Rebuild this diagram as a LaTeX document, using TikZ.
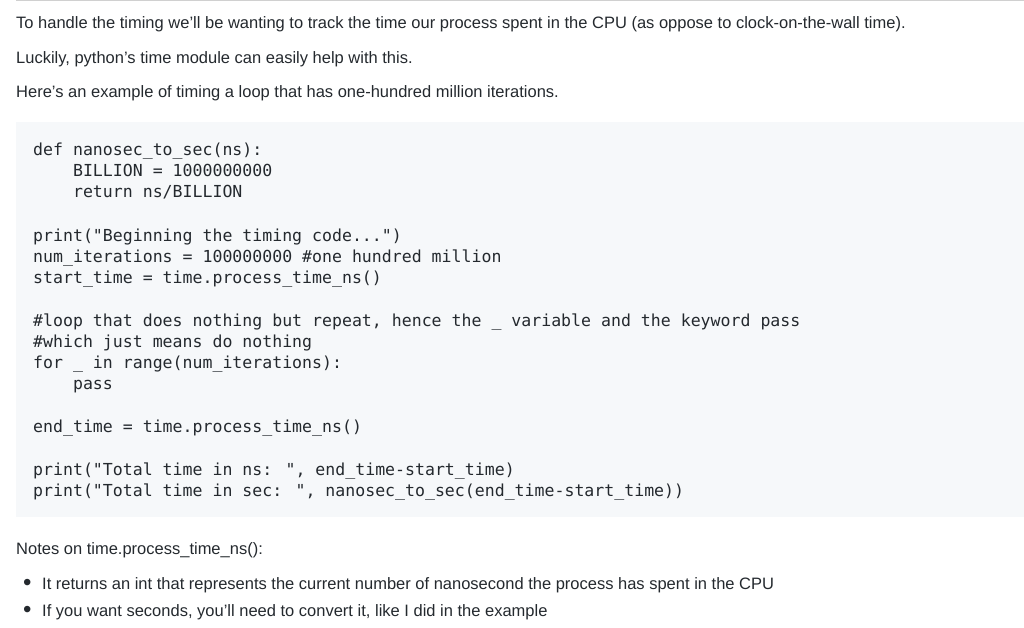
\documentclass[tikz,border=0pt]{standalone}
\usepackage{fontspec}
\setmainfont{Liberation Sans}
\newfontfamily\codefont{DejaVu Sans Mono}
\definecolor{codebg}{HTML}{F6F8FA}
\definecolor{txt}{HTML}{24292E}
\definecolor{rule}{HTML}{D0D0D0}
\begin{document}
\begin{tikzpicture}[x=1pt,y=-1pt,
  body/.style={anchor=base west,inner sep=0,text=txt,font=\fontsize{16.5}{19}\selectfont},
  code/.style={anchor=base west,inner sep=0,text=txt,font=\codefont\fontsize{16.55}{20}\selectfont}]
\useasboundingbox (0,0) rectangle (1024,628);
\draw[rule,line width=1.2] (16,0.6) -- (1024,0.6);
\fill[codebg] (16,122) rectangle (1024,517);
\node[body] (t1) at (16,29) {To handle the timing we'll be wanting to track the time our process spent in the CPU (as oppose to clock-on-the-wall time).};
\node[body] (t2) at (16,64) {Luckily, python's time module can easily help with this.};
\node[body] (t3) at (16,98) {Here's an example of timing a loop that has one-hundred million iterations.};
\node[code] (c1) at (33,156) {def nanosec\_to\_sec(ns):};
\node[code] (c2) at (33,177) {\ \ \ \ BILLION = 1000000000};
\node[code] (c3) at (33,198) {\ \ \ \ return ns/BILLION};
\node[code] (c4) at (33,241) {print("Beginning the timing code...")};
\node[code] (c5) at (33,262) {num\_iterations = 100000000 \#one hundred million};
\node[code] (c6) at (33,283) {start\_time = time.process\_time\_ns()};
\node[code] (c7) at (33,326) {\#loop that does nothing but repeat, hence the \_ variable and the keyword pass};
\node[code] (c8) at (33,347) {\#which just means do nothing};
\node[code] (c9) at (33,368) {for \_ in range(num\_iterations):};
\node[code] (c10) at (33,389) {\ \ \ \ pass};
\node[code] (c11) at (33,432) {end\_time = time.process\_time\_ns()};
\node[code] (c12) at (33,475) {print("Total time in ns: ", end\_time-start\_time)};
\node[code] (c13) at (33,496) {print("Total time in sec: ", nanosec\_to\_sec(end\_time-start\_time))};
\node[body] (n1) at (16,554) {Notes on time.process\_time\_ns():};
\node[body,font=\fontsize{24}{24}\selectfont] (b1) at (23,590) {•};
\node[body] (l1) at (42,589) {It returns an int that represents the current number of nanosecond the process has spent in the CPU};
\node[body,font=\fontsize{24}{24}\selectfont] (b2) at (23,617) {•};
\node[body] (l2) at (42,616) {If you want seconds, you'll need to convert it, like I did in the example};
\end{tikzpicture}
\end{document}
